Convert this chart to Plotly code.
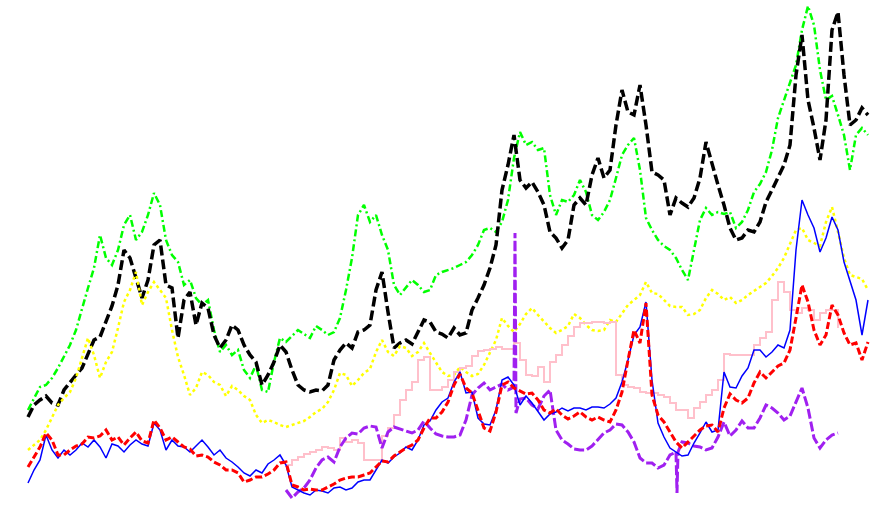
import plotly.graph_objects as go

# sampling days (one observation every 6 days)
day = list(range(0, 841, 6))

green = [90, 102, 113, 115, 122, 132, 143, 155, 170, 192,
         212, 232, 265, 242, 235, 250, 275, 285, 260, 268,
         285, 307, 295, 260, 245, 238, 215, 220, 202, 195,
         200, 170, 148, 155, 145, 150, 130, 122, 135, 110,
         108, 138, 162, 158, 164, 170, 166, 162, 174, 170,
         165, 168, 182, 210, 242, 285, 295, 278, 285, 265,
         250, 215, 205, 212, 220, 215, 208, 210, 225, 228,
         230, 232, 235, 238, 245, 255, 270, 272, 268, 278,
         300, 342, 368, 355, 358, 350, 352, 305, 285, 300,
         298, 305, 320, 308, 285, 280, 288, 300, 322, 345,
         355, 362, 330, 282, 270, 260, 254, 250, 242, 230,
         220, 250, 280, 292, 285, 288, 286, 288, 272, 278,
         290, 308, 316, 328, 350, 382, 400, 418, 435, 470,
         494, 475, 430, 400, 404, 385, 365, 330, 365, 372, 365]

black = [83, 95, 100, 104, 97, 95, 110, 118, 125, 132,
         145, 160, 163, 178, 194, 215, 250, 242, 222, 202,
         220, 255, 260, 215, 212, 162, 200, 208, 175, 197,
         192, 165, 152, 160, 175, 170, 155, 145, 138, 115,
         125, 138, 155, 148, 130, 115, 110, 108, 110, 109,
         115, 140, 150, 157, 152, 168, 170, 175, 210, 228,
         188, 152, 157, 160, 156, 168, 180, 178, 168, 166,
         162, 172, 165, 167, 190, 202, 215, 232, 255, 310,
         335, 365, 320, 312, 318, 308, 295, 268, 262, 252,
         260, 295, 302, 295, 325, 342, 322, 330, 375, 410,
         388, 385, 415, 375, 328, 325, 320, 285, 302, 297,
         293, 302, 322, 358, 335, 315, 295, 272, 260, 262,
         270, 268, 278, 298, 310, 322, 335, 355, 425, 465,
         400, 372, 340, 380, 470, 488, 425, 375, 380, 392, 385]

yellow = [50, 55, 60, 70, 82, 95, 102, 108, 122, 142,
          162, 145, 122, 138, 148, 172, 198, 210, 228, 195,
          208, 218, 210, 202, 170, 143, 125, 105, 112, 128,
          125, 118, 115, 104, 114, 110, 104, 100, 85, 77,
          80, 78, 75, 73, 75, 77, 79, 83, 88, 91,
          98, 110, 127, 125, 114, 120, 127, 131, 148, 160,
          148, 144, 154, 152, 144, 148, 157, 147, 138, 128,
          124, 125, 133, 128, 124, 126, 135, 148, 160, 182,
          174, 168, 176, 186, 192, 185, 178, 172, 167, 170,
          174, 186, 182, 175, 170, 169, 170, 180, 178, 186,
          195, 200, 205, 218, 207, 206, 200, 194, 193, 193,
          185, 186, 190, 202, 210, 206, 200, 203, 197, 200,
          205, 209, 213, 217, 224, 232, 242, 257, 270, 272,
          260, 257, 254, 278, 293, 268, 242, 225, 223, 221, 210]

blue = [17, 30, 40, 65, 50, 42, 50, 45, 50, 57,
        53, 60, 53, 42, 56, 54, 48, 55, 60, 56,
        54, 77, 70, 50, 60, 54, 53, 48, 54, 60,
        53, 45, 50, 42, 38, 33, 27, 24, 30, 27,
        36, 40, 45, 35, 13, 10, 7, 5, 10, 9,
        7, 12, 13, 10, 12, 18, 20, 20, 30, 40,
        37, 43, 47, 53, 50, 60, 75, 79, 90, 98,
        102, 118, 128, 107, 108, 82, 76, 75, 90, 120,
        123, 115, 95, 104, 97, 88, 80, 86, 88, 92,
        89, 92, 92, 90, 93, 93, 92, 96, 102, 118,
        140, 165, 173, 198, 120, 77, 63, 52, 48, 44,
        45, 57, 67, 78, 68, 70, 128, 113, 112, 124,
        132, 150, 150, 143, 148, 155, 152, 170, 250, 300,
        285, 272, 248, 262, 283, 270, 238, 218, 200, 165, 200]

red = [33, 43, 53, 67, 60, 45, 45, 50, 54, 56,
       63, 62, 64, 70, 60, 63, 55, 62, 68, 59,
       57, 80, 72, 60, 63, 58, 53, 51, 44, 45,
       43, 38, 35, 30, 30, 27, 18, 20, 23, 23,
       26, 30, 37, 38, 15, 13, 10, 11, 10, 10,
       13, 16, 20, 22, 23, 23, 25, 27, 33, 39,
       38, 44, 48, 52, 55, 60, 72, 82, 82, 88,
       98, 115, 126, 112, 107, 90, 72, 69, 88, 115,
       118, 112, 109, 106, 107, 100, 90, 87, 91, 85,
       81, 84, 88, 83, 80, 83, 80, 78, 90, 108,
       140, 170, 157, 197, 105, 85, 78, 68, 58, 52,
       58, 64, 70, 74, 75, 68, 92, 106, 100, 97,
       102, 117, 128, 122, 128, 134, 137, 150, 182, 215,
       198, 170, 155, 165, 195, 185, 167, 155, 157, 140, 158]

# the two shorter series start on day 258
late_start = 258
pink = [35, 40, 43, 46, 48, 50, 53,
        52, 50, 62, 58, 60, 57, 40, 40, 40, 64,
        72, 85, 100, 110, 118, 140, 143, 110, 110, 113,
        120, 128, 132, 134, 144, 149, 150, 151, 153, 151,
        151, 157, 140, 125, 124, 133, 118, 138, 145, 155,
        164, 173, 177, 177, 178, 178, 177, 178, 125, 115,
        113, 112, 108, 107, 107, 105, 103, 97, 90, 90,
        82, 92, 98, 105, 110, 120, 146, 145, 145, 145,
        145, 155, 162, 168, 200, 218, 208, 190, 187, 192,
        190, 180, 187, 190, 190, 172]

purple = [10, 2, 8, 12, 20, 32, 40,
          43, 38, 53, 62, 67, 66, 72, 74, 73, 52,
          68, 73, 71, 69, 67, 70, 79, 72, 66, 64,
          63, 63, 65, 80, 105, 112, 117, 110, 113, 116,
          110, 113, 101, 102, 95, 91, 104, 110, 70, 60,
          56, 51, 50, 50, 54, 60, 67, 70, 76, 75,
          68, 58, 42, 37, 37, 32, 35, 45, 48, 58,
          57, 54, 53, 50, 52, 63, 78, 64, 70, 79,
          72, 72, 82, 95, 92, 87, 80, 84, 98, 112,
          92, 62, 52, 60, 65, 67]
# single-day outliers in the purple series
purple_spikes = {487: 267, 488: 87, 649: 7, 650: 48}

for s in (green, black, yellow, blue, red):
    assert len(s) == len(day)
late_days = [d for d in day if d >= late_start][:len(pink)]
assert len(pink) == len(late_days) == len(purple)

pts = dict(zip(late_days, purple))
pts.update(purple_spikes)
purple_days = sorted(pts)
purple_vals = [pts[d] for d in purple_days]

fig = go.Figure()
fig.add_trace(go.Scatter(x=day, y=green, mode="lines", hoverinfo="skip",
                         line=dict(color="#00ff00", width=2.5, dash="7px,3px,2px,3px")))
fig.add_trace(go.Scatter(x=day, y=black, mode="lines", hoverinfo="skip",
                         line=dict(color="#000000", width=3.5, dash="10px,4px")))
fig.add_trace(go.Scatter(x=day, y=yellow, mode="lines", hoverinfo="skip",
                         line=dict(color="#ffff00", width=2.5, dash="3px,3px")))
fig.add_trace(go.Scatter(x=late_days, y=pink, mode="lines", hoverinfo="skip",
                         line=dict(color="#ffc0cb", width=2, shape="hv")))
fig.add_trace(go.Scatter(x=purple_days, y=purple_vals, mode="lines", hoverinfo="skip",
                         line=dict(color="#a020f0", width=3, dash="10px,3px")))
fig.add_trace(go.Scatter(x=day, y=blue, mode="lines", hoverinfo="skip",
                         line=dict(color="#0000ff", width=1.5)))
fig.add_trace(go.Scatter(x=day, y=red, mode="lines", hoverinfo="skip",
                         line=dict(color="#ff0000", width=3, dash="7px,3px")))

fig.update_layout(
    width=893, height=512,
    margin=dict(l=0, r=0, t=0, b=0),
    paper_bgcolor="white", plot_bgcolor="white",
    showlegend=False,
    xaxis=dict(range=[-28, 865], visible=False),
    yaxis=dict(range=[-12, 500], visible=False),
)
fig.write_html("out.html", config={"displayModeBar": False, "staticPlot": True},
               post_script="document.body.style.margin='0px';document.body.style.overflow='hidden';")
